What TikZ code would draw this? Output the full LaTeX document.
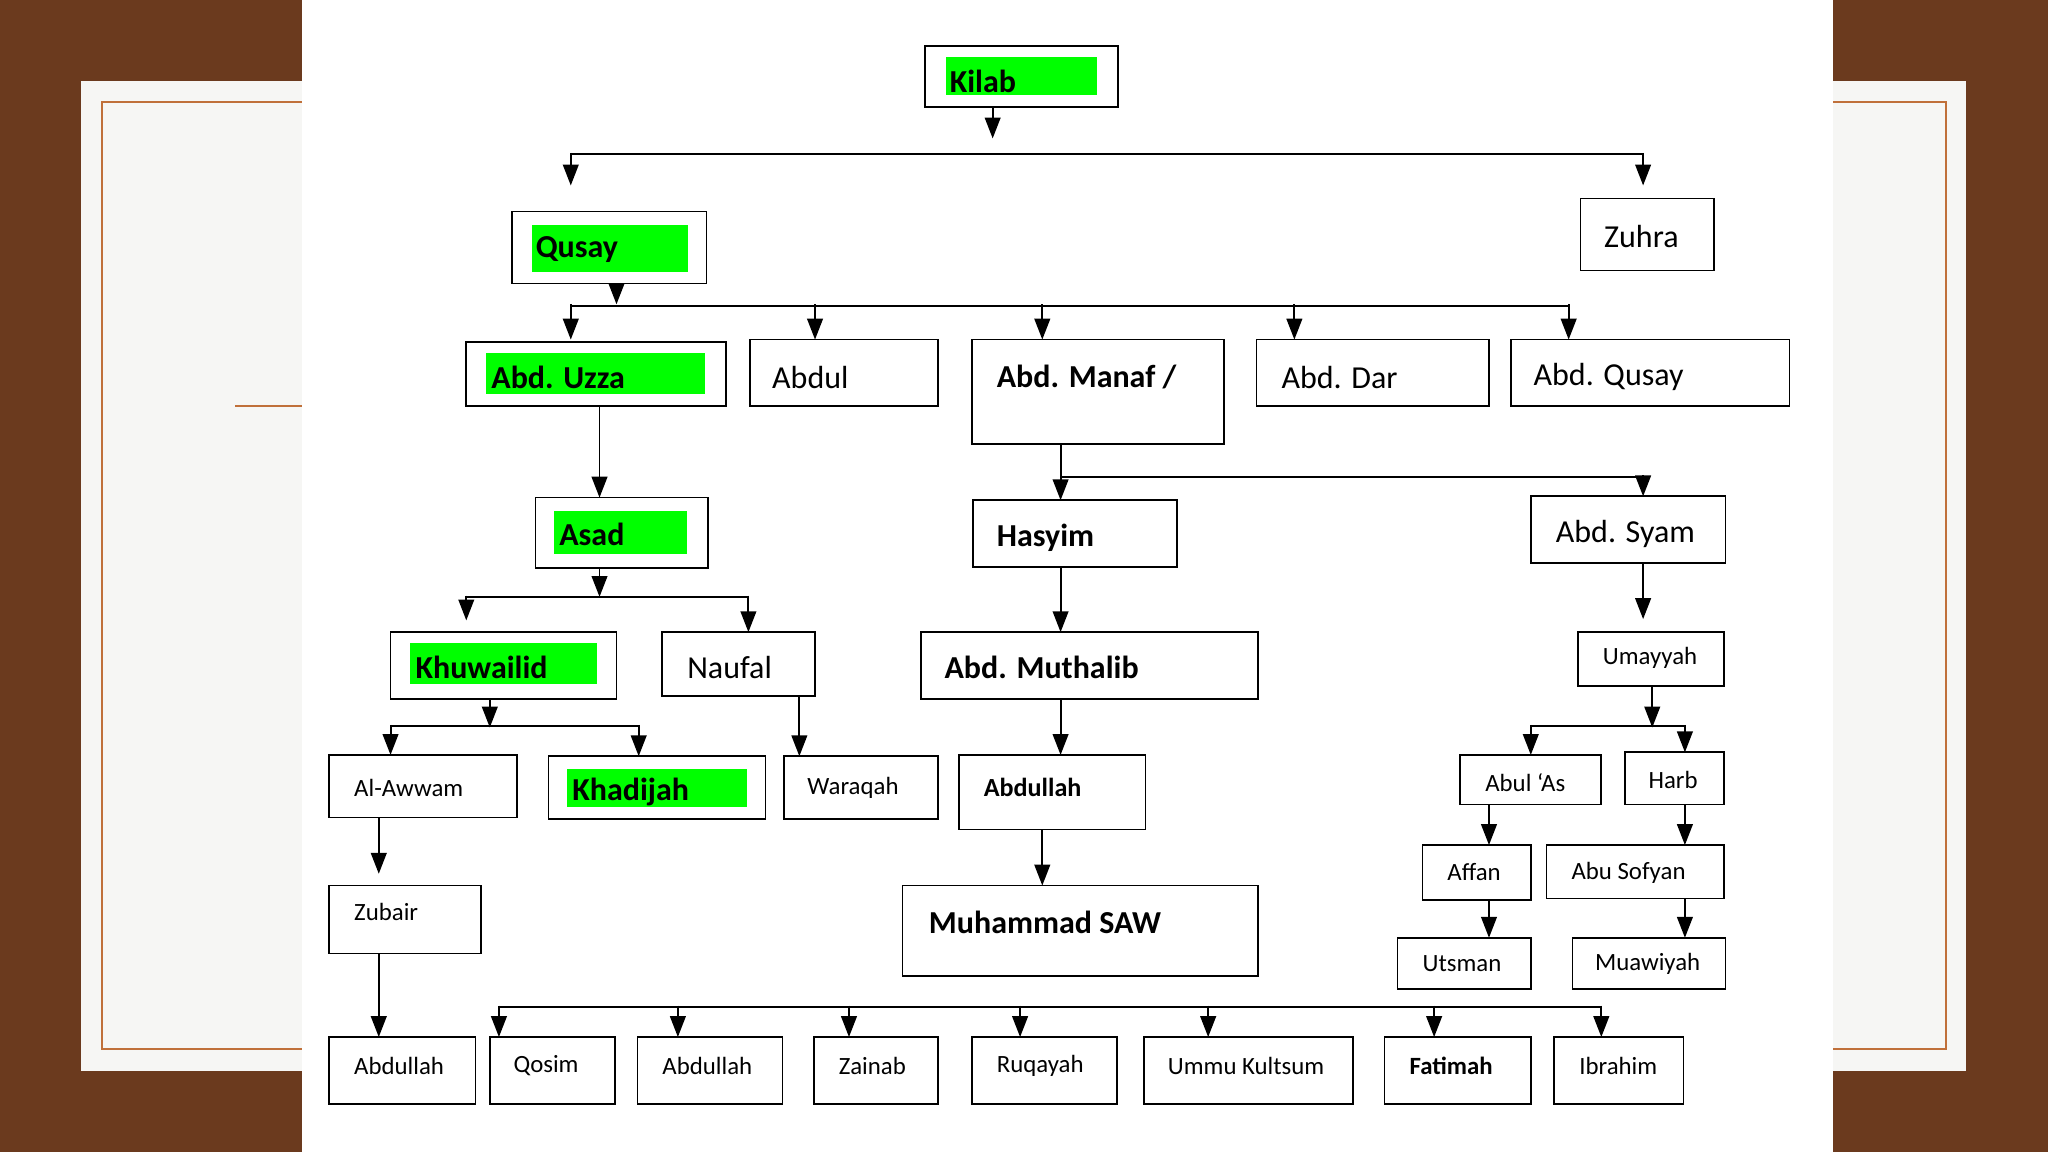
\documentclass[tikz,border=0pt]{standalone}
\usepackage{fontspec}
\setmainfont{Carlito}
\usetikzlibrary{arrows.meta}
\definecolor{wood}{HTML}{6B3A1E}
\definecolor{card}{HTML}{F6F6F4}
\definecolor{rim}{HTML}{C0703A}
\definecolor{hl}{HTML}{00FF00}
\begin{document}
\begin{tikzpicture}[x=1pt,y=-1pt,
  box/.style={draw=black,line width=1.3pt,fill=white},
  grn/.style={fill=hl},
  arr/.style={line width=1.5pt,-{Triangle[width=12pt,length=16pt]}},
  ln/.style={line width=1.5pt},
  L/.style={anchor=west,inner sep=0pt,font=\fontsize{24.5}{26}\selectfont},
  LB/.style={L,font=\fontsize{24.5}{26}\selectfont\bfseries},
  S/.style={anchor=west,inner sep=0pt,font=\fontsize{19}{21}\selectfont},
  SB/.style={S,font=\fontsize{20}{22}\selectfont\bfseries}]
\fill[wood] (0,0) rectangle (1568,882);
\useasboundingbox (0,0) rectangle (1568,882);
\fill[card] (62,62) rectangle (1505,820);
\draw[rim,line width=1.5pt] (78,78) rectangle (1490,803);
\draw[rim,line width=1.5pt] (180,311) -- (231,311);
\fill[white] (231,0) rectangle (1403,882);
% boxes
\newcommand{\bx}[5]{\draw[box] (#2,#3) rectangle (#4,#5); \coordinate (#1) at ({(#2+#4)/2},{(#3+#5)/2});}
\bx{kilab}{708}{35}{856}{82}\fill[grn] (724,44) rectangle (840,73);
\bx{qusay}{392}{162}{541}{217}\fill[grn] (407,172) rectangle (527,208);
\bx{zuhra}{1210}{152}{1312}{207}
\bx{uzza}{357}{262}{556}{311}\fill[grn] (372,270) rectangle (540,302);
\bx{abdul}{574}{260}{718}{311}
\bx{manaf}{744}{260}{937}{340}
\bx{dar}{962}{260}{1140}{311}
\bx{aqusay}{1157}{260}{1370}{311}
\bx{asad}{410}{381}{542}{435}\fill[grn] (424,391) rectangle (526,424);
\bx{hasyim}{745}{383}{901}{434}
\bx{syam}{1172}{380}{1321}{431}
\bx{khuw}{299}{484}{472}{535}\fill[grn] (314,492) rectangle (457,524);
\bx{naufal}{507}{484}{624}{533}
\bx{muth}{705}{484}{963}{535}
\bx{umay}{1208}{484}{1320}{525}
\bx{awwam}{252}{578}{396}{626}
\bx{khad}{420}{579}{586}{627}\fill[grn] (434,589) rectangle (572,618);
\bx{waraq}{600}{579}{718}{627}
\bx{abdm}{734}{578}{877}{635}
\bx{abulas}{1118}{578}{1226}{616}
\bx{harb}{1244}{576}{1320}{616}
\bx{affan}{1089}{647}{1172}{689}
\bx{sofyan}{1184}{647}{1320}{688}
\bx{zubair}{252}{678}{368}{730}
\bx{saw}{691}{678}{963}{747}
\bx{utsman}{1070}{718}{1172}{757}
\bx{muaw}{1204}{718}{1321}{757}
\bx{b1}{252}{794}{364}{845}
\bx{b2}{375}{794}{471}{845}
\bx{b3}{488}{794}{599}{845}
\bx{b4}{623}{794}{718}{845}
\bx{b5}{744}{794}{855}{845}
\bx{b6}{876}{794}{1036}{845}
\bx{b7}{1060}{794}{1172}{845}
\bx{b8}{1190}{794}{1289}{845}
% labels
\node[LB] (tkilab) at (727,62) {Kilab};
\node[LB] (tqusay) at (410,191) {Qusay};
\node[L] (tzuhra) at (1228,181) {Zuhra};
\node[LB] (tuzza) at (376,289) {Abd. Uzza};
\node[L] (tabdul) at (591,289) {Abdul};
\node[LB] (tmanaf) at (763,289) {Abd. Manaf /};
\node[L] (tdar) at (981,289) {Abd. Dar};
\node[L] (taqusay) at (1174,289) {Abd. Qusay};
\node[LB] (tasad) at (428,409) {Asad};
\node[LB] (thasyim) at (763,412) {Hasyim};
\node[L] (tsyam) at (1191,409) {Abd. Syam};
\node[LB] (tkhuw) at (318,511) {Khuwailid};
\node[L] (tnaufal) at (526,511) {Naufal};
\node[LB] (tmuth) at (723,511) {Abd. Muthalib};
\node[S] (tumay) at (1227,504) {Umayyah};
\node[S] (tawwam) at (271,603) {Al-Awwam};
\node[LB] (tkhad) at (438,606) {Khadijah};
\node[S] (twaraq) at (618,603) {Waraqah};
\node[SB] (tabdm) at (753,603) {Abdullah};
\node[S] (tabulas) at (1137,599) {Abul ‘As};
\node[S] (tharb) at (1262,597) {Harb};
\node[S] (taffan) at (1108,668) {Affan};
\node[S] (tsofyan) at (1203,668) {Abu Sofyan};
\node[S] (tzubair) at (271,698) {Zubair};
\node[LB] (tsaw) at (711,706) {Muhammad SAW};
\node[S] (tutsman) at (1089,738) {Utsman};
\node[S] (tmuaw) at (1221,738) {Muawiyah};
\node[S] (tb1) at (271,816) {Abdullah};
\node[S] (tb2) at (393,816) {Qosim};
\node[S] (tb3) at (507,816) {Abdullah};
\node[S] (tb4) at (642,816) {Zainab};
\node[S] (tb5) at (763,816) {Ruqayah};
\node[S] (tb6) at (894,816) {Ummu Kultsum};
\node[S,font=\fontsize{19}{21}\selectfont\bfseries] (tb7) at (1079,816) {Fatimah};
\node[S] (tb8) at (1209,816) {Ibrahim};
% connectors
\draw[arr] (760,82) -- (760,106);
\draw[ln] (437,118) -- (1258,118);
\draw[arr] (437,117) -- (437,142);
\draw[arr] (1258,117) -- (1258,142);
\draw[arr] (472,217) -- (472,233);
\draw[ln] (437,234) -- (1201,234);
\foreach \x in {437,624,798,991,1201} \draw[arr] (\x,233) -- (\x,260);
\draw[arr] (459,311) -- (459,381);
\draw[arr] (812,340) -- (812,383);
\draw[ln] (812,365) -- (1258,365);
\draw[arr] (1258,364) -- (1258,380);
\draw[arr] (459,435) -- (459,457);
\draw[ln] (357,457) -- (573,457);
\draw[arr] (357,456) -- (357,475);
\draw[arr] (573,456) -- (573,484);
\draw[arr] (812,434) -- (812,484);
\draw[arr] (1258,431) -- (1258,474);
\draw[arr] (375,535) -- (375,557);
\draw[ln] (299,556) -- (489,556);
\draw[arr] (299,555) -- (299,578);
\draw[arr] (489,555) -- (489,579);
\draw[arr] (612,533) -- (612,579);
\draw[arr] (812,535) -- (812,578);
\draw[arr] (1265,525) -- (1265,557);
\draw[ln] (1172,556) -- (1290,556);
\draw[arr] (1172,555) -- (1172,578);
\draw[arr] (1290,555) -- (1290,576);
\draw[arr] (290,626) -- (290,669);
\draw[arr] (798,635) -- (798,678);
\draw[arr] (1140,616) -- (1140,647);
\draw[arr] (1290,616) -- (1290,647);
\draw[arr] (1140,689) -- (1140,718);
\draw[arr] (1290,688) -- (1290,718);
\draw[arr] (290,730) -- (290,794);
\draw[ln] (382,771) -- (1226,771);
\foreach \x in {382,519,650,781,925,1098,1226} \draw[arr] (\x,770) -- (\x,794);
\end{tikzpicture}
\end{document}
